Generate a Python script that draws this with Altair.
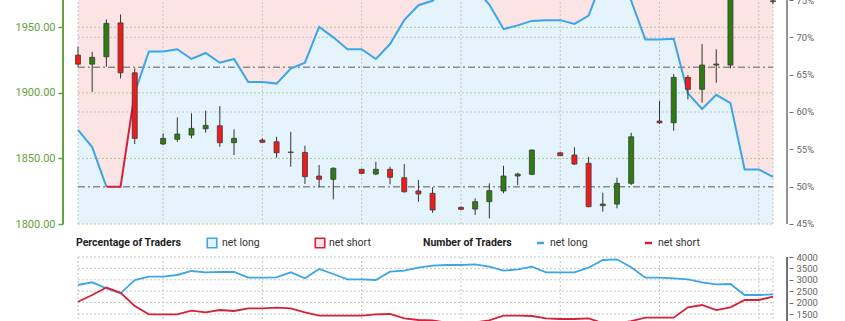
import altair as alt
import pandas as pd

# ---------------- data ----------------
days = list(range(50))

opens = [1928.8, 1921.9, 1927.5, 1953.4, 1915.3, None, 1861.0, 1864.6, 1867.8, 1872.6,
         1874.9, 1862.0, None, 1864.0, 1862.7, 1854.6, 1854.6, 1836.6, 1834.1, None,
         1841.7, 1838.1, 1841.7, 1835.3, 1825.2, 1823.4, None, 1812.7, 1811.4, 1817.0,
         1825.2, 1836.6, 1837.9, None, 1854.3, 1852.6, 1846.3, 1814.0, 1815.2, 1831.0,
         None, 1878.5, 1877.2, 1911.8, 1902.7, 1921.2, 1921.2, None, 1985.0, 1970.2]
highs = [1935.1, 1931.3, 1956.0, 1959.8, 1918.7, None, 1869.1, 1881.3, 1884.4, 1886.4,
         1889.9, 1872.2, None, 1865.3, 1866.5, 1870.3, 1859.7, 1845.0, 1843.2, None,
         1842.1, 1847.5, 1843.7, 1845.7, 1833.5, 1828.0, None, 1813.2, 1819.6, 1831.0,
         1844.4, 1839.1, 1856.9, None, 1854.6, 1858.5, 1851.3, 1823.9, 1835.3, 1869.6,
         None, 1894.0, 1914.3, 1913.6, 1937.2, 1933.2, 1990.0, None, 1998.0, 1976.0]
lows = [1919.9, 1900.8, 1919.9, 1911.0, 1861.0, None, 1860.2, 1862.7, 1865.3, 1869.6,
        1858.9, 1852.6, None, 1862.3, 1850.5, 1843.7, 1830.5, 1828.0, 1818.8, None,
        1838.3, 1837.3, 1830.3, 1823.9, 1817.0, 1808.6, None, 1810.9, 1806.9, 1804.3,
        1823.4, 1829.7, 1837.3, None, 1851.8, 1845.0, 1812.7, 1809.4, 1812.0, 1829.7,
        None, 1876.2, 1871.1, 1895.0, 1892.5, 1907.7, 1918.7, None, 1972.0, 1967.5]
closes = [1921.9, 1927.1, 1953.0, 1915.3, 1865.3, None, 1865.3, 1868.6, 1872.9, 1875.2,
          1862.0, 1865.3, None, 1862.3, 1854.3, 1854.9, 1836.1, 1834.1, 1842.5, None,
          1838.6, 1841.7, 1835.6, 1824.6, 1822.9, 1810.7, None, 1811.2, 1817.0, 1825.4,
          1836.6, 1838.1, 1856.4, None, 1852.1, 1845.7, 1813.2, 1815.2, 1831.0, 1866.5,
          None, 1877.2, 1911.8, 1902.7, 1921.2, 1922.0, 1985.0, None, 1976.0, 1969.6]

pct_long = [57.6, 55.3, 49.3, 49.7, 62.6, 68.1, 68.1, 68.4, 67.1, 67.9,
            66.6, 67.1, 64.0, 64.0, 63.8, 65.8, 66.6, 71.4, 70.0, 68.4,
            68.4, 67.1, 69.1, 72.3, 74.3, 74.9, 76.5, 76.7, 76.5, 74.4,
            71.1, 71.6, 72.2, 72.3, 72.3, 71.8, 72.9, 77.9, 78.3, 74.9,
            69.7, 69.7, 69.8, 62.5, 60.4, 62.3, 61.2, 52.3, 52.3, 51.3]

num_long = [2772, 2890, 2627, 2408, 2991, 3136, 3136, 3211, 3386, 3329,
            3342, 3342, 3092, 3092, 3110, 3329, 3066, 3474, 3254, 3022,
            3022, 2991, 3355, 3399, 3531, 3618, 3649, 3649, 3680, 3575,
            3399, 3461, 3575, 3329, 3329, 3329, 3531, 3868, 3899, 3548,
            3092, 3092, 3066, 3022, 2890, 2803, 2816, 2333, 2333, 2364]
num_short = [2039, 2333, 2660, 2430, 1851, 1487, 1487, 1487, 1645, 1575,
             1675, 1632, 1750, 1750, 1776, 1750, 1575, 1425, 1425, 1425,
             1425, 1487, 1500, 1311, 1237, 1215, 1120, 1110, 1130, 1225,
             1425, 1425, 1412, 1311, 1281, 1281, 1311, 1100, 1080, 1190,
             1338, 1338, 1338, 1794, 1895, 1675, 1794, 2114, 2114, 2259]

price_ticks = [1800, 1850, 1900, 1950]
pct_ticks = [45, 50, 55, 60, 65, 70, 75]
pct_grid = [60, 70]
pct_refs = [50, 66]
num_ticks = [1500, 2000, 2500, 3000, 3500, 4000]
week_lines = [0, 6, 13, 20, 27, 34, 41, 48, 49]

# ---------------- styles ----------------
BLUE = "#3aa6e6"
RED = "#d8203a"
GREEN_UP = "#2f7c10"
RED_DN = "#f01c1c"
PINK_BG = "#fce4e4"
BLUE_BG = "#e5f3fc"
AX_GREEN = "#64a23a"
AX_GRAY = "#707070"

X = alt.Scale(domain=[0, 49], nice=False, zero=False)
PRICE = alt.Scale(domain=[1726.03, 1970.82], nice=False, zero=False)
PCT = alt.Scale(domain=[32.0, 75.0], nice=False, zero=False)
NUM = alt.Scale(domain=[1193, 15272], nice=False, zero=False)
PCT_TOP = 75.0
NUM_BOT = 1193

# ---------------- frames ----------------
candles = pd.DataFrame(dict(day=days, open=opens, high=highs, low=lows, close=closes)).dropna()
candles["dir"] = ["up" if c >= o else "down" for o, c in zip(candles["open"], candles["close"])]

disp = [max(p, 50.0) for p in pct_long]
area_df = pd.DataFrame(dict(day=days, disp=disp))

runs = []
for i in range(len(days) - 1):
    side = "short" if pct_long[i] < 50 else "long"
    if runs and runs[-1][0] == side:
        runs[-1][1].append(i + 1)
    else:
        runs.append([side, [i, i + 1]])
line_rows = []
for k, (side, ds) in enumerate(runs):
    for d in ds:
        line_rows.append(dict(day=d, disp=disp[d], side=side, run=k))
pct_line_df = pd.DataFrame(line_rows)

num_df = pd.concat([
    pd.DataFrame(dict(day=days, n=num_long, side="long")),
    pd.DataFrame(dict(day=days, n=num_short, side="short")),
])

weeks_df = pd.DataFrame(dict(day=week_lines))
price_df = pd.DataFrame(dict(v=price_ticks))
pctg_df = pd.DataFrame(dict(v=pct_grid))
pctr_df = pd.DataFrame(dict(v=pct_refs))
num_grid_df = pd.DataFrame(dict(v=num_ticks))

xenc = alt.X("day:Q", scale=X, axis=None)
side_color = alt.Color("side:N", scale=alt.Scale(domain=["long", "short"], range=[BLUE, RED]), legend=None)

# ---------------- layers ----------------
pink = alt.Chart(area_df).mark_area(color=PINK_BG, clip=True).encode(
    x=xenc, y=alt.Y("disp:Q", scale=PCT, axis=None), y2=alt.Y2(datum=80))
blue = alt.Chart(area_df).mark_area(color=BLUE_BG, clip=True).encode(
    x=xenc, y=alt.Y("disp:Q", scale=PCT, axis=None), y2=alt.Y2(datum=45))

price_grid = alt.Chart(price_df).mark_rule(color="#a9cf8a", strokeDash=[2, 2], strokeWidth=1).encode(
    y=alt.Y("v:Q", scale=PRICE, axis=None),
    x=alt.X(datum=0, scale=X, axis=None), x2=alt.X2(datum=49))
pct_grid_l = alt.Chart(pctg_df).mark_rule(color="#c4c4c4", strokeDash=[2, 2], strokeWidth=1).encode(
    y=alt.Y("v:Q", scale=PCT, axis=None),
    x=alt.X(datum=0, scale=X, axis=None), x2=alt.X2(datum=49))
vgrid_top = alt.Chart(weeks_df).mark_rule(color="#c4c4c4", strokeDash=[2, 2], strokeWidth=1).encode(
    x=xenc, y=alt.Y(datum=45, scale=PCT, axis=None), y2=alt.Y2(datum=PCT_TOP))
refs = alt.Chart(pctr_df).mark_rule(color="#8c8c8c", strokeDash=[7, 3, 2, 3], strokeWidth=1.5).encode(
    y=alt.Y("v:Q", scale=PCT, axis=None),
    x=alt.X(datum=0, scale=X, axis=None), x2=alt.X2(datum=49))

pct_line = alt.Chart(pct_line_df).mark_line(strokeWidth=2, clip=True).encode(
    x=xenc,
    y=alt.Y("disp:Q", scale=PCT, axis=alt.Axis(
        orient="right", values=pct_ticks, labelExpr="datum.value + '%'", offset=11,
        tickSize=4, labelPadding=3, domain=False, grid=False, tickColor=AX_GRAY,
        labelColor="#666666", labelFont="Roboto", labelFontSize=9.5, title=None)),
    color=side_color, detail="run:N", order="day:Q")

wicks = alt.Chart(candles).mark_rule(color="#333333", strokeWidth=1).encode(
    x=xenc,
    y=alt.Y("low:Q", scale=PRICE, axis=alt.Axis(
        orient="left", values=price_ticks, format=".2f", offset=10, tickSize=5,
        labelPadding=3, domain=False, grid=False, tickColor=AX_GREEN, tickWidth=1.5,
        labelColor=AX_GREEN, labelFont="Roboto", labelFontSize=11, title=None)),
    y2="high:Q")
bodies = alt.Chart(candles).mark_bar(size=5, stroke="#3a3a3a", strokeWidth=0.8).encode(
    x=xenc,
    y=alt.Y("open:Q", scale=PRICE, axis=None), y2="close:Q",
    color=alt.Color("dir:N", scale=alt.Scale(domain=["up", "down"], range=[GREEN_UP, RED_DN]), legend=None))

left_dom = alt.Chart(price_df).mark_rule(color=AX_GREEN, strokeWidth=1.5).encode(
    x=alt.value(-10), y=alt.Y(datum=1800, scale=PRICE, axis=None), y2=alt.Y2(datum=1970.82))
right_dom_top = alt.Chart(pctg_df).mark_rule(color=AX_GRAY, strokeWidth=1).encode(
    x=alt.value(714), y=alt.Y(datum=45, scale=PCT, axis=None), y2=alt.Y2(datum=PCT_TOP))

# bottom panel
num_grid = alt.Chart(num_grid_df).mark_rule(color="#c4c4c4", strokeDash=[2, 2], strokeWidth=1).encode(
    y=alt.Y("v:Q", scale=NUM, axis=alt.Axis(
        orient="right", values=num_ticks, format="d", offset=11, tickSize=4,
        labelPadding=3, domain=False, grid=False, tickColor=AX_GRAY,
        labelColor="#666666", labelFont="Roboto", labelFontSize=9.5, title=None)),
    x=alt.X(datum=0, scale=X, axis=None), x2=alt.X2(datum=49))
vgrid_bot = alt.Chart(weeks_df).mark_rule(color="#c4c4c4", strokeDash=[2, 2], strokeWidth=1).encode(
    x=xenc, y=alt.Y(datum=4000, scale=NUM, axis=None), y2=alt.Y2(datum=NUM_BOT))
right_dom_bot = alt.Chart(num_grid_df).mark_rule(color=AX_GRAY, strokeWidth=1).encode(
    x=alt.value(714), y=alt.Y(datum=4000, scale=NUM, axis=None), y2=alt.Y2(datum=NUM_BOT))
num_lines = alt.Chart(num_df).mark_line(strokeWidth=1.8).encode(
    x=xenc, y=alt.Y("n:Q", scale=NUM, axis=None), color=side_color, order="day:Q")

# legend row (positions in plot pixels)
LEG_FONT = "Roboto"
def txt(label, x, bold=False):
    return alt.Chart(pd.DataFrame({"t": [label]})).mark_text(
        align="left", baseline="middle", font=LEG_FONT, fontSize=10.5,
        fontWeight="bold" if bold else "normal", color="#222222" if bold else "#333333").encode(
        text="t:N", x=alt.value(x), y=alt.value(243))

def sq(x, stroke, fill):
    return alt.Chart(pd.DataFrame({"t": [0]})).mark_point(
        shape="square", size=90, filled=False, stroke=stroke, strokeWidth=1.6, fill=fill, fillOpacity=1).encode(
        x=alt.value(x), y=alt.value(243))

def dash(x, color):
    return alt.Chart(pd.DataFrame({"t": [0]})).mark_rule(color=color, strokeWidth=2.5).encode(
        x=alt.value(x), x2=alt.value(x + 7), y=alt.value(243))

legend_layers = [
    txt("Percentage of Traders", 3, True),
    sq(139, BLUE, BLUE_BG), txt("net long", 149),
    sq(247, RED, PINK_BG), txt("net short", 256),
    txt("Number of Traders", 350, True),
    dash(464, BLUE), txt("net long", 477),
    dash(572, RED), txt("net short", 585),
]

chart = alt.layer(
    pink, blue, price_grid, pct_grid_l, vgrid_top, refs, pct_line, wicks, bodies,
    left_dom, right_dom_top, num_grid, vgrid_bot, right_dom_bot, num_lines,
    *legend_layers
).resolve_scale(y="independent", color="independent").properties(
    width=705, height=321,
    padding={"left": 73, "right": 67, "top": 0, "bottom": 0},
    autosize=alt.AutoSizeParams(type="none"),
    background="white",
).configure_view(stroke=None)

chart.save("out.html", embed_options={"renderer": "svg", "actions": False})
